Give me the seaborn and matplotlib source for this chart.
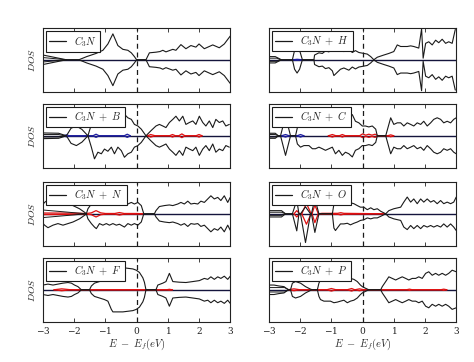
import numpy as np
import pandas as pd
import seaborn as sns
import matplotlib
matplotlib.use("Agg")
import matplotlib.pyplot as plt

# --- data (energy in eV, DOS in arbitrary units) ---

# C3N
x_c3n = [-3, -2.6, -2.25, -1.85, -1.6, -1.3, -1.08, -0.92, -0.76, -0.6, -0.44, -0.28, -0.17, -0.07, 0.0,
         0.3, 0.41, 0.62, 0.75, 0.84, 0.94, 1.16, 1.26, 1.42, 1.58, 1.74, 1.9, 2.0, 2.17, 2.44, 2.65, 2.81, 3.0]
dos_c3n = [0.15, 0.07, 0.0, 0.0, 0.1, 0.2, 0.3, 0.5, 0.82, 0.45, 0.33, 0.3, 0.22, 0.1, 0.0,
           0.0, 0.22, 0.24, 0.26, 0.3, 0.25, 0.33, 0.3, 0.48, 0.35, 0.45, 0.4, 0.5, 0.35, 0.47, 0.38, 0.5, 0.75]
inner_x_c3n = [-3, -2.25]
inner_c3n = [0.07, 0.0]

# C3N + H
x_h = [-3, -2.8, -2.7, -2.6, -2.25, -2.18, -2.1, -2.02, -1.93, -1.56, -1.54, -1.40, -1.29, -1.19, -1.08,
       -0.97, -0.92, -0.71, -0.60, -0.44, -0.33, -0.23, -0.12, -0.01, 0.15, 0.26, 0.36, 0.47, 0.68, 0.84,
       1.0, 1.11, 1.22, 1.43, 1.54, 1.64, 1.80, 1.89, 1.94, 2.02, 2.12, 2.23, 2.34, 2.44, 2.55, 2.66,
       2.76, 2.87, 2.97]
dos_h = [0.1, 0.1, 0.05, 0.0, 0.0, 0.3, 0.42, 0.3, 0.0, 0.0, 0.15, 0.22, 0.2, 0.28, 0.25,
         0.35, 0.5, 0.3, 0.26, 0.33, 0.23, 0.29, 0.23, 0.21, 0.18, 0.1, 0.0, 0.08, 0.15, 0.2,
         0.26, 0.47, 0.42, 0.42, 0.44, 0.42, 0.37, 0.98, 0.05, 0.52, 0.57, 0.47, 0.62, 0.54, 0.65, 0.52,
         0.57, 0.52, 0.96]
inner_x_h = [-3, -2.75, -2.63]
inner_h = [0.05, 0.05, 0.0]
blue_x_h = [-2.25, -2.1, -1.93]
blue_h = [0.0, 0.015, 0.0]

# C3N + B
x_b = [-3, -2.5, -2.25, -2.1, -1.93, -1.75, -1.56, -1.45, -1.35, -1.24, -1.13, -1.03, -0.92, -0.81, -0.71,
       -0.6, -0.49, -0.39, -0.28, -0.17, -0.07, 0.04, 0.15, 0.30, 0.46, 0.62, 0.73, 0.84, 0.94, 1.05,
       1.16, 1.26, 1.37, 1.48, 1.58, 1.69, 1.80, 1.90, 2.01, 2.12, 2.22, 2.33, 2.44, 2.54, 2.65, 2.76,
       2.86, 2.97]
dos_b = [0.09, 0.08, 0.0, 0.24, 0.31, 0.2, 0.0, 0.36, 0.73, 0.52, 0.57, 0.42, 0.49, 0.36, 0.57,
         0.36, 0.47, 0.68, 0.57, 0.52, 0.36, 0.31, 0.21, 0.0, 0.16, 0.31, 0.36, 0.31, 0.26, 0.42,
         0.52, 0.62, 0.47, 0.62, 0.36, 0.42, 0.47, 0.36, 0.62, 0.42, 0.31, 0.47, 0.26, 0.52, 0.42, 0.47,
         0.31, 0.36]
inner_x_b = [-3, -2.5, -2.31]
inner_b = [0.04, 0.04, 0.0]
blue_x_b = [-2.35, -2.25, -2.15, -1.4, -1.3, -1.2, -0.4, -0.3, -0.2]
blue_b = [0.0, 0.03, 0.0, 0.0, 0.05, 0.0, 0.0, 0.05, 0.0]
red_x_b = [0.35, 0.45, 0.6, 1.05, 1.15, 1.25, 1.35, 1.45, 1.55, 1.9, 2.0, 2.1]
red_b = [0.0, 0.04, 0.0, 0.0, 0.04, 0.0, 0.0, 0.06, 0.0, 0.0, 0.04, 0.0]

# C3N + C
x_c = [-3, -2.8, -2.7, -2.63, -2.47, -2.31, -2.15, -2.09, -1.99, -1.88, -1.72, -1.61, -1.51, -1.40, -1.29,
       -1.19, -1.08, -0.97, -0.87, -0.76, -0.65, -0.55, -0.44, -0.33, -0.23, -0.12, -0.01, 0.09, 0.20,
       0.31, 0.42, 0.47, 0.74, 0.90, 1.0, 1.11, 1.22, 1.32, 1.43, 1.54, 1.64, 1.75, 1.86, 1.96, 2.07,
       2.18, 2.28, 2.39, 2.5, 2.6, 2.71, 2.82, 2.92, 3.0]
dos_c = [0.08, 0.08, 0.0, 0.0, 0.62, 0.0, 0.0, 0.26, 0.36, 0.31, 0.31, 0.41, 0.41, 0.36, 0.41,
         0.46, 0.41, 0.36, 0.57, 0.46, 0.62, 0.52, 0.57, 0.67, 0.46, 0.41, 0.31, 0.31, 0.28,
         0.31, 0.21, 0.0, 0.0, 0.57, 0.36, 0.41, 0.41, 0.31, 0.41, 0.36, 0.31, 0.41, 0.36, 0.46, 0.31,
         0.41, 0.52, 0.57, 0.52, 0.41, 0.46, 0.41, 0.52, 0.57]
inner_x_c = [-3, -2.8, -2.7]
inner_c = [0.04, 0.04, 0.0]
blue_x_c = [-2.6, -2.47, -2.35, -2.1, -1.99, -1.88]
blue_c = [0.0, 0.04, 0.0, 0.0, 0.04, 0.0]
red_x_c = [-1.1, -0.97, -0.85, -0.75, -0.65, -0.55, -0.1, 0.0, 0.1, 0.2, 0.3, 0.4, 0.5, 0.8, 0.9, 1.0]
red_c = [0.0, 0.04, 0.0, 0.0, 0.04, 0.0, 0.0, 0.06, 0.02, 0.05, 0.02, 0.05, 0.0, 0.0, 0.03, 0.0]

# C3N + N
x_n = [-3, -2.95, -2.84, -2.68, -2.52, -2.36, -2.2, -2.04, -1.83, -1.67, -1.61, -1.56, -1.45, -1.35, -1.29,
       -1.19, -1.08, -0.97, -0.87, -0.76, -0.65, -0.55, -0.39, -0.28, -0.17, -0.07, 0.04, 0.15, 0.23,
       0.57, 0.62, 0.73, 0.89, 1.05, 1.16, 1.32, 1.42, 1.53, 1.64, 1.74, 1.85, 1.96, 2.06, 2.17, 2.28,
       2.38, 2.49, 2.6, 2.7, 2.81, 2.92, 3.0]
dos_n = [0.3, 0.36, 0.44, 0.36, 0.31, 0.36, 0.31, 0.26, 0.16, 0.05, 0.0, 0.16, 0.31, 0.42, 0.47,
         0.31, 0.36, 0.31, 0.36, 0.31, 0.36, 0.33, 0.42, 0.31, 0.36, 0.31, 0.36, 0.26, 0.0,
         0.0, 0.1, 0.23, 0.26, 0.28, 0.26, 0.31, 0.36, 0.31, 0.4, 0.31, 0.33, 0.31, 0.4, 0.36, 0.47,
         0.57, 0.47, 0.52, 0.42, 0.57, 0.36, 0.52]
inner_x_n = [-3, -1.61]
inner_n = [0.12, 0.0]
red_x_n = [-3, -2.0, -1.6, -1.45, -1.3, -1.15, -1.0, -0.7, -0.55, -0.4, 0.0, 0.2]
red_n = [0.025, 0.02, 0.01, 0.03, 0.1, 0.03, 0.01, 0.01, 0.04, 0.01, 0.01, 0.0]

# C3N + O (spin down differs at the O peaks)
x_o = [-3, -2.6, -2.47, -2.25, -2.11, -2.04, -1.99, -1.83, -1.67, -1.64, -1.53, -1.40, -0.97, -0.92,
       -0.87, -0.81, -0.71, -0.60, -0.49, -0.39, -0.28, -0.17, -0.07, 0.04, 0.15, 0.26, 0.36, 0.47, 0.58,
       0.74, 0.84, 1.0, 1.22, 1.32, 1.43, 1.54, 1.64, 1.75, 1.86, 1.96, 2.07, 2.18, 2.28, 2.39, 2.5,
       2.6, 2.71, 2.82, 2.92, 3.0]
up_o = [0.1, 0.1, 0.0, 0.0, 0.43, 0.0, 0.0, 0.22, 0.0, 0.0, 0.48, 0.0, 0.0, 0.3,
        0.42, 0.37, 0.32, 0.37, 0.32, 0.35, 0.32, 0.26, 0.21, 0.21, 0.13, 0.19, 0.13, 0.16, 0.08,
        0.0, 0.1, 0.16, 0.21, 0.37, 0.53, 0.37, 0.47, 0.32, 0.47, 0.37, 0.47, 0.37, 0.42, 0.32, 0.42,
        0.32, 0.37, 0.32, 0.37, 0.53]
dn_o = [0.1, 0.1, 0.0, 0.0, 0.54, 0.0, 0.0, 0.91, 0.0, 0.0, 0.59, 0.0, 0.0, 0.45,
        0.53, 0.45, 0.32, 0.32, 0.3, 0.35, 0.3, 0.26, 0.21, 0.19, 0.13, 0.16, 0.13, 0.13, 0.08,
        0.0, 0.1, 0.16, 0.21, 0.42, 0.5, 0.37, 0.47, 0.37, 0.47, 0.37, 0.42, 0.37, 0.42, 0.37, 0.42,
        0.32, 0.42, 0.32, 0.42, 0.53]
inner_x_o = [-3, -2.6, -2.47]
inner_o = [0.05, 0.05, 0.0]
red_x_o = [-2.2, -2.11, -2.02, -1.95, -1.8, -1.65, -1.62, -1.53, -1.42, -1.3, -0.8, -0.7, -0.6, 0.7]
red_o = [0.0, 0.1, 0.0, 0.0, 0.33, 0.0, 0.0, 0.28, 0.0, 0.015, 0.015, 0.035, 0.015, 0.0]

# C3N + F
x_f = [-3, -2.84, -2.68, -2.52, -2.36, -2.2, -2.09, -1.99, -1.88, -1.77, -1.51, -1.45, -1.35, -1.19, -1.03,
       -0.92, -0.81, -0.76, -0.44, -0.12, -0.01, 0.09, 0.2, 0.25, 0.3, 0.62, 0.68, 0.84, 0.94, 1.05,
       1.16, 1.37, 1.58, 1.8, 2.01, 2.17, 2.28, 2.38, 2.49, 2.6, 2.7, 2.81, 2.92, 3.0]
dos_f = [0.15, 0.18, 0.15, 0.18, 0.21, 0.23, 0.21, 0.15, 0.1, 0.0, 0.0, 0.12, 0.21, 0.26, 0.31,
         0.36, 0.62, 0.7, 0.7, 0.66, 0.62, 0.55, 0.38, 0.24, 0.0, 0.0, 0.15, 0.21, 0.26, 0.52,
         0.26, 0.24, 0.23, 0.26, 0.29, 0.36, 0.33, 0.41, 0.33, 0.41, 0.36, 0.43, 0.33, 0.43]
red_x_f = [-2.65, -2.4, -2.1, 0.95, 1.05, 1.15]
red_f = [0.0, 0.03, 0.0, 0.0, 0.015, 0.0]

# C3N + P
x_p = [-3, -2.84, -2.68, -2.52, -2.41, -2.36, -2.31, -2.25, -2.15, -1.99, -1.83, -1.67, -1.61, -1.45, -1.40,
       -1.35, -1.24, -1.13, -1.03, -0.92, -0.81, -0.71, -0.6, -0.49, -0.39, -0.28, -0.17, -0.07, -0.01,
       0.09, 0.2, 0.58, 0.63, 0.74, 0.84, 0.95, 1.06, 1.16, 1.27, 1.38, 1.48, 1.59, 1.7, 1.8, 1.91,
       2.02, 2.12, 2.23, 2.34, 2.44, 2.55, 2.66, 2.76, 2.87, 3.0]
dos_p = [0.15, 0.15, 0.12, 0.1, 0.02, 0.0, 0.0, 0.21, 0.26, 0.21, 0.1, 0.02, 0.0, 0.0, 0.21,
         0.31, 0.36, 0.36, 0.36, 0.41, 0.39, 0.36, 0.33, 0.41, 0.36, 0.33, 0.26, 0.15, 0.1,
         0.05, 0.0, 0.0, 0.1, 0.26, 0.41, 0.36, 0.31, 0.36, 0.41, 0.36, 0.31, 0.36, 0.36, 0.41, 0.36,
         0.52, 0.57, 0.46, 0.52, 0.46, 0.52, 0.46, 0.52, 0.62, 0.57]
inner_x_p = [-3, -2.5, -2.36]
inner_p = [0.07, 0.07, 0.0]
red_x_p = [-2.4, -2.2, -2.0, -1.15, -1.0, -0.85, -0.5, -0.35, -0.25, -0.1, 0.05, 1.4, 1.5, 1.6, 2.5, 2.6, 2.7]
red_p = [0.0, 0.03, 0.0, 0.0, 0.04, 0.0, 0.0, 0.04, 0.0, 0.03, 0.0, 0.0, 0.02, 0.0, 0.0, 0.02, 0.0]

labels = [r'$C_3N$', r'$C_3N\ +\ H$', r'$C_3N\ +\ B$', r'$C_3N\ +\ C$',
          r'$C_3N\ +\ N$', r'$C_3N\ +\ O$', r'$C_3N\ +\ F$', r'$C_3N\ +\ P$']
xticks = [-3, -2, -1, 0, 1, 2, 3]

panels = [
    dict(x=x_c3n, up=dos_c3n, dn=dos_c3n, ix=inner_x_c3n, iy=inner_c3n),
    dict(x=x_h, up=dos_h, dn=dos_h, ix=inner_x_h, iy=inner_h, bx=blue_x_h, by=blue_h),
    dict(x=x_b, up=dos_b, dn=dos_b, ix=inner_x_b, iy=inner_b, bx=blue_x_b, by=blue_b, rx=red_x_b, ry=red_b),
    dict(x=x_c, up=dos_c, dn=dos_c, ix=inner_x_c, iy=inner_c, bx=blue_x_c, by=blue_c, rx=red_x_c, ry=red_c),
    dict(x=x_n, up=dos_n, dn=dos_n, ix=inner_x_n, iy=inner_n, rx=red_x_n, ry=red_n),
    dict(x=x_o, up=up_o, dn=dn_o, ix=inner_x_o, iy=inner_o, rx=red_x_o, ry=red_o),
    dict(x=x_f, up=dos_f, dn=dos_f, rx=red_x_f, ry=red_f),
    dict(x=x_p, up=dos_p, dn=dos_p, ix=inner_x_p, iy=inner_p, rx=red_x_p, ry=red_p),
]

sns.set_theme(style="ticks")
plt.rcParams['mathtext.fontset'] = 'cm'
plt.rcParams['font.family'] = ['DejaVu Serif']
plt.rcParams['axes.formatter.use_mathtext'] = True

fig = plt.figure(figsize=(4.74, 3.62), dpi=100)
lefts = [0.0907, 0.5675]
width = 0.395
bottoms = [0.7459, 0.5359, 0.3204, 0.1105]
height = 0.178


def pdos(ax, xs, ys, color):
    xs = np.asarray(xs)
    ys = np.asarray(ys)
    sns.lineplot(x=xs, y=ys, color=color, lw=0.9, ax=ax, estimator=None, sort=False)
    sns.lineplot(x=xs, y=-ys, color=color, lw=0.9, ax=ax, estimator=None, sort=False)


for i, p in enumerate(panels):
    row, col = divmod(i, 2)
    ax = fig.add_axes([lefts[col], bottoms[row], width, height])
    x = np.asarray(p['x'])
    up = np.asarray(p['up'])
    dn = np.asarray(p['dn'])

    ax.axhline(0, color='#14143c', lw=1.0, zorder=1)
    if 'bx' in p:
        pdos(ax, p['bx'], p['by'], '#1f1fa0')
    if 'rx' in p:
        pdos(ax, p['rx'], p['ry'], '#e01010')
    sns.lineplot(x=x, y=up, color='k', lw=0.8, ax=ax, estimator=None, sort=False)
    sns.lineplot(x=x, y=-dn, color='k', lw=0.8, ax=ax, estimator=None, sort=False)
    if 'ix' in p:
        ix = np.asarray(p['ix'])
        iy = np.asarray(p['iy'])
        sns.lineplot(x=ix, y=iy, color='k', lw=0.7, ax=ax, estimator=None, sort=False)
        sns.lineplot(x=ix, y=-iy, color='k', lw=0.7, ax=ax, estimator=None, sort=False)
    ax.axvline(0, color='k', ls=(0, (4, 3)), lw=0.9)

    leg = ax.legend([plt.Line2D([], [], color='k', lw=0.9)], [labels[i]], loc='upper left',
                    fontsize=7.5, frameon=True, fancybox=False, framealpha=1.0, handlelength=1.6,
                    borderaxespad=0.3, borderpad=0.3, handletextpad=0.8)
    leg.set_zorder(10)
    leg.get_frame().set_edgecolor('k')
    leg.get_frame().set_facecolor('white')
    leg.get_frame().set_linewidth(0.8)

    ax.set_xlim(-3, 3)
    ax.set_ylim(-1.02, 1.02)
    ax.set_xticks(xticks)
    ax.set_yticks([])
    ax.tick_params(axis='x', direction='in', top=True, length=3, width=0.6, labelsize=6.5, pad=2,
                   colors='#222222')
    for s in ax.spines.values():
        s.set_linewidth(0.8)
        s.set_color('#222222')
    if row < 3:
        ax.set_xticklabels([])
    else:
        ax.set_xlabel(r'$E\ -\ E_f(eV)$', fontsize=7.5, labelpad=1)
    if col == 0:
        ax.set_ylabel(r'$DOS$', fontsize=7, labelpad=4)
    else:
        ax.set_ylabel('')

fig.savefig('out.png', dpi=100)
